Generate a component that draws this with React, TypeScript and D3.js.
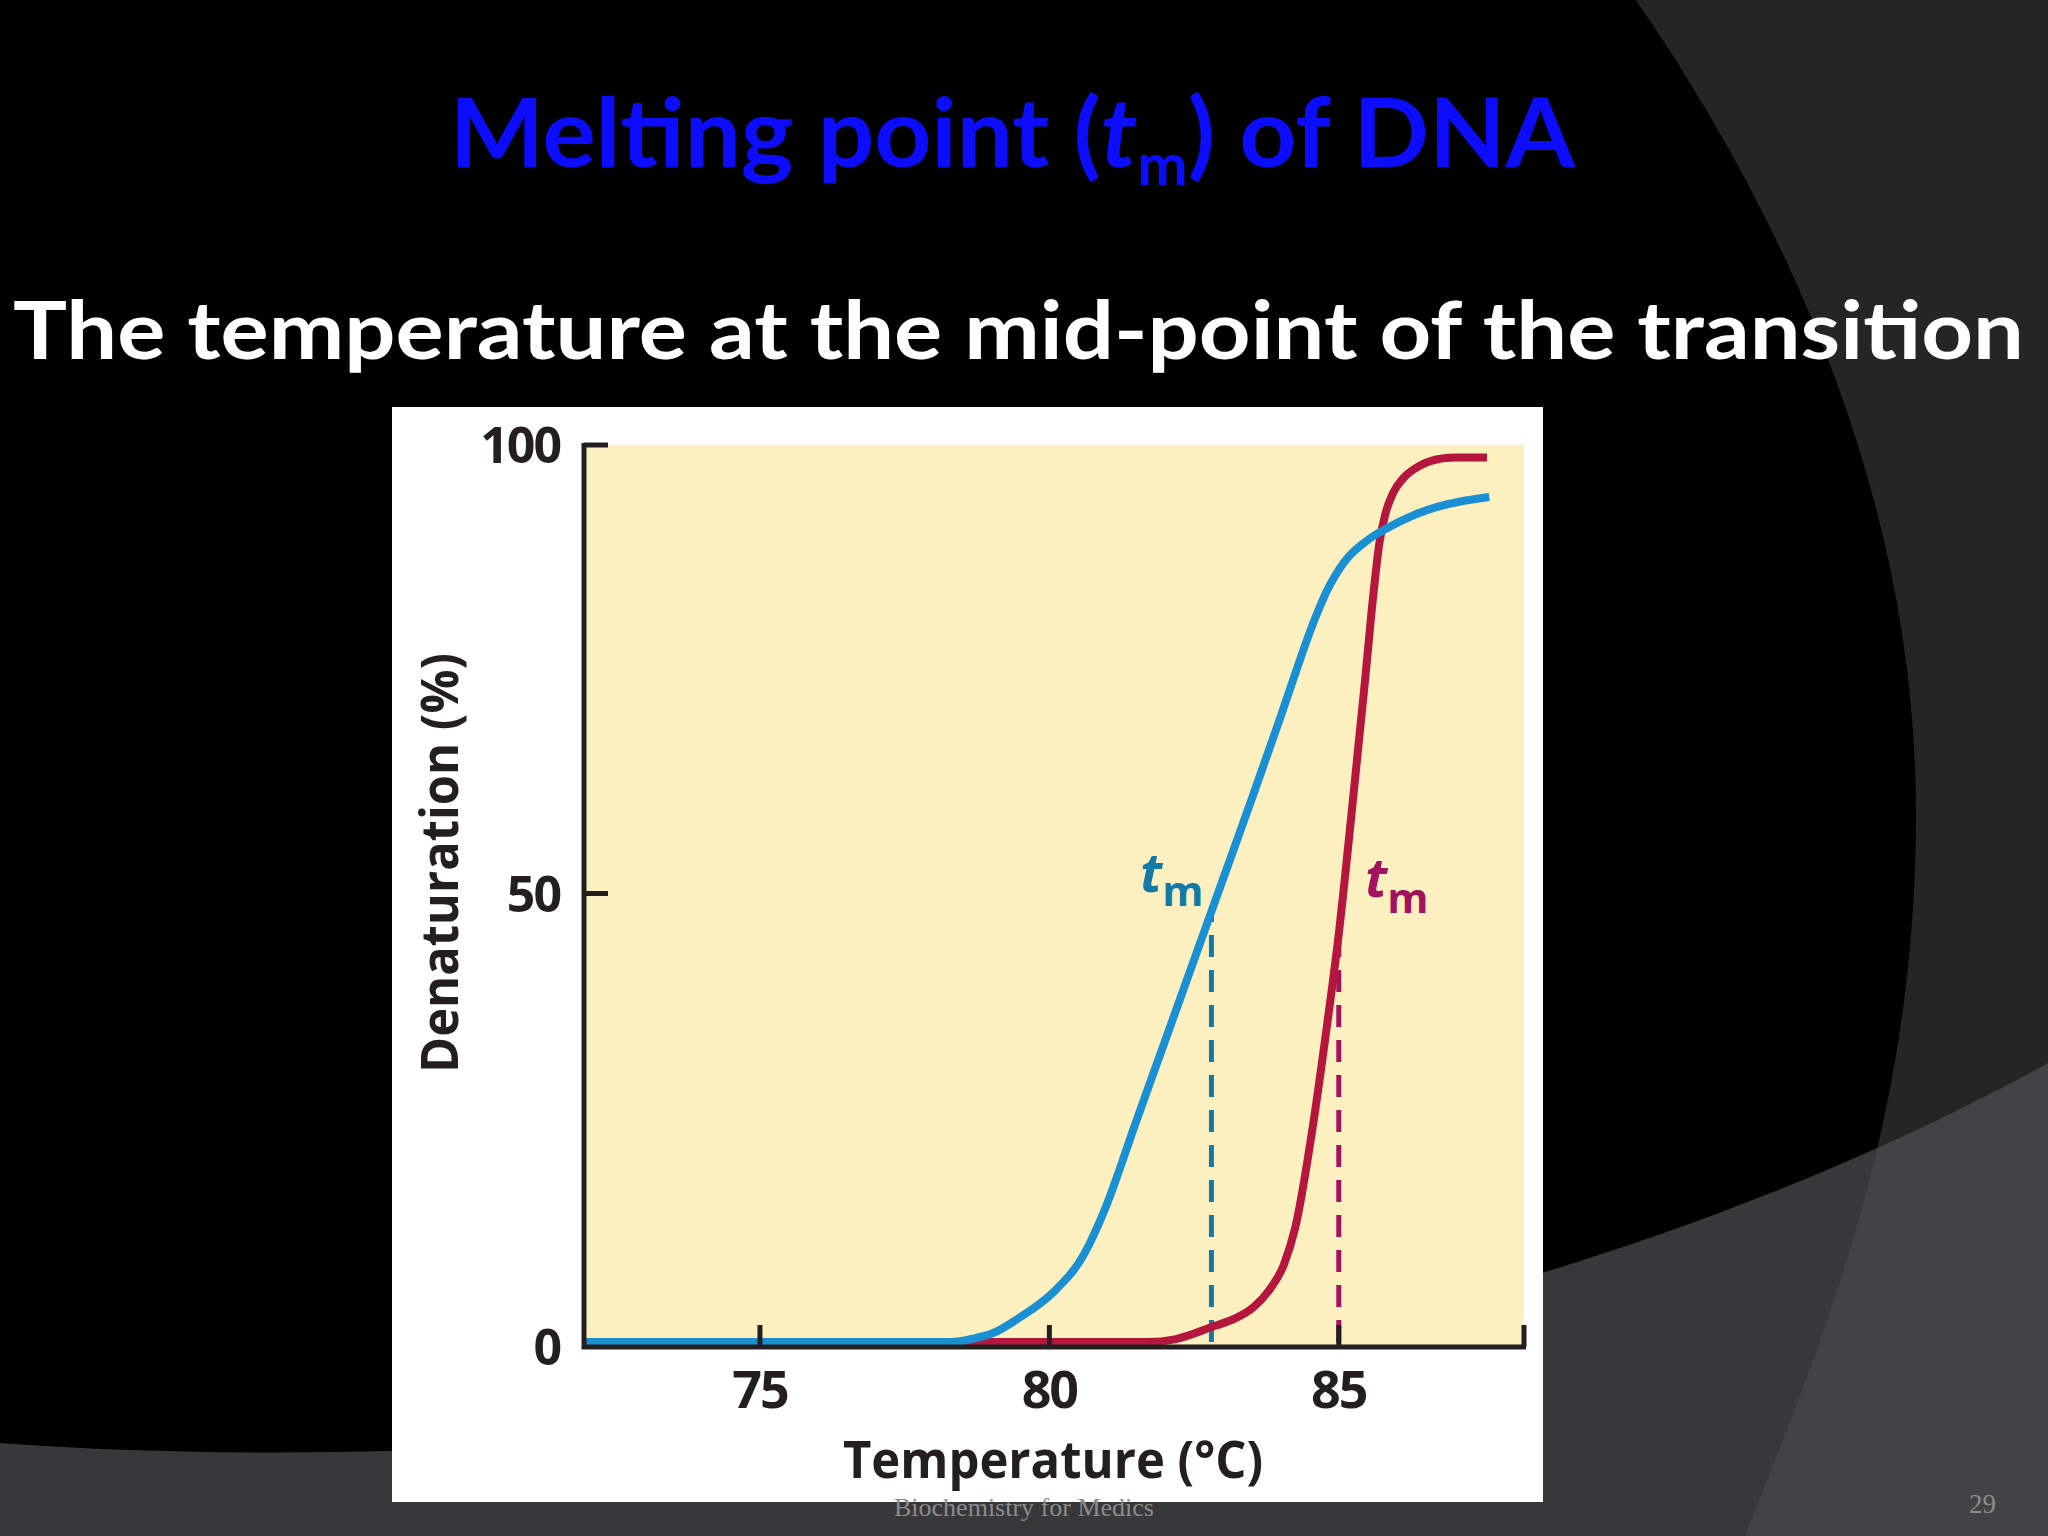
import * as d3 from "d3";

// melting curves: [temperature °C, denaturation %]
const blueCurve: [number, number][] = [
  [72, 0], [78.3, 0], [78.7, 0.4], [79.03, 1.0], [79.48, 2.7], [80.06, 5.5],
  [80.6, 9.8], [80.94, 14.5], [81.5, 24.6], [82.0, 33.6], [82.5, 42.6],
  [83.0, 51.6], [83.5, 60.6], [84.0, 69.8], [84.3, 75.5], [84.55, 80.0],
  [84.8, 83.8], [85.1, 87.0], [85.5, 89.4], [85.8, 90.6], [86.3, 92.2],
  [86.7, 93.1], [87.1, 93.7], [87.6, 94.2],
];
const redCurve: [number, number][] = [
  [72, 0], [81.7, 0], [82.17, 0.3], [82.86, 1.8], [83.2, 2.6], [83.53, 3.9],
  [83.8, 5.8], [84.05, 8.6], [84.25, 12.8], [84.56, 24.4], [84.78, 34.5],
  [85.0, 45.5], [85.23, 59.5], [85.45, 73.5], [85.6, 83.5], [85.7, 89.0],
  [85.8, 92.2], [85.95, 94.8], [86.13, 96.4], [86.35, 97.5], [86.58, 98.2],
  [87.0, 98.6], [87.56, 98.6],
];
// tm markers: [temperature, top of dashed line %]
const blueTm: [number, number] = [82.8, 47.8];
const redTm: [number, number] = [85.0, 45.4];

const xTicks = [75, 80, 85];
const yTicks = [0, 50, 100];
const xDomain: [number, number] = [71.96, 88.2];

const BLUE = "#1b8fd3";
const BLUE_DARK = "#137aa8";
const RED = "#b5163d";
const RED_DARK = "#a2125f";
const AXIS = "#231f20";
const FONT = "'Open Sans', 'Noto Sans', sans-serif";

export default function App() {
  const x = d3.scaleLinear().domain(xDomain).range([584, 1524]);
  const y = d3.scaleLinear().domain([0, 100]).range([1342, 445]);

  const line = d3
    .line<[number, number]>()
    .x((d) => x(d[0]))
    .y((d) => y(d[1]))
    .curve(d3.curveMonotoneX);

  const axisY = y(0) + 5;

  return (
    <svg
      width={2048}
      height={1536}
      viewBox="0 0 2048 1536"
      style={{ position: "absolute", left: 0, top: 0, display: "block" }}
    >
      {/* slide background */}
      <rect width={2048} height={1536} fill="#000" />
      <path
        d="M1636,0 C1798,236 1916,513 1916,813 C1916,1113 1829,1326 1745,1536 L2048,1536 L2048,0 Z"
        fill="#252525"
      />
      <path
        d="M0,1443 C500,1480 1400,1420 2048,1063 L2048,1536 L0,1536 Z"
        fill="rgb(80,80,82)"
        fillOpacity={0.7}
      />

      {/* title */}
      <text
        x={450}
        y={167}
        fill="#0c0cff"
        fontFamily="'Comic Sans MS', Lato, 'Noto Sans', sans-serif"
        fontWeight={700}
        fontSize={96}
        textLength={1125}
        lengthAdjust="spacingAndGlyphs"
      >
        Melting point (<tspan fontStyle="italic">t</tspan>
        <tspan fontSize={58} dy={18}>m</tspan>
        <tspan dy={-18}>) of DNA</tspan>
      </text>

      <text
        x={13}
        y={359}
        fill="#fff"
        fontFamily="'Comic Sans MS', Lato, 'Noto Sans', sans-serif"
        fontWeight={700}
        fontSize={80}
        textLength={2011}
        lengthAdjust="spacingAndGlyphs"
      >
        The temperature at the mid-point of the transition
      </text>

      {/* figure panel */}
      <rect x={392} y={407} width={1151} height={1095} fill="#fff" />
      <rect
        x={x(xDomain[0])}
        y={y(100)}
        width={x(xDomain[1]) - x(xDomain[0])}
        height={axisY - y(100)}
        fill="#fdf0c0"
      />

      {/* tm dashed guides */}
      <line
        x1={x(blueTm[0])}
        x2={x(blueTm[0])}
        y1={y(0)}
        y2={y(blueTm[1])}
        stroke={BLUE_DARK}
        strokeWidth={5}
        strokeDasharray="22 13"
      />
      <line
        x1={x(redTm[0])}
        x2={x(redTm[0])}
        y1={y(0)}
        y2={y(redTm[1])}
        stroke={RED_DARK}
        strokeWidth={5}
        strokeDasharray="22 13"
      />

      {/* curves */}
      <path d={line(redCurve) ?? ""} fill="none" stroke={RED} strokeWidth={8} />
      <path d={line(blueCurve) ?? ""} fill="none" stroke={BLUE} strokeWidth={8} />

      {/* tm labels */}
      <text x={1140} y={892} fill={BLUE_DARK} fontFamily={FONT} fontWeight={700}>
        <tspan fontSize={54} fontStyle="italic">t</tspan>
        <tspan fontSize={42} dy={14}>m</tspan>
      </text>
      <text x={1365} y={897} fill={RED_DARK} fontFamily={FONT} fontWeight={700}>
        <tspan fontSize={54} fontStyle="italic">t</tspan>
        <tspan fontSize={42} dy={16}>m</tspan>
      </text>

      {/* axes */}
      <line x1={584} x2={584} y1={y(100) - 2} y2={axisY + 2} stroke={AXIS} strokeWidth={5} />
      <line x1={582} x2={x(xDomain[1]) + 2} y1={axisY} y2={axisY} stroke={AXIS} strokeWidth={5} />
      {yTicks.map((t) => (
        <g key={`y${t}`}>
          {t > 0 && (
            <line x1={584} x2={608} y1={y(t)} y2={y(t)} stroke={AXIS} strokeWidth={5} />
          )}
          <text
            x={560}
            y={t === 0 ? axisY : y(t)}
            dy="0.36em"
            textAnchor="end"
            fill={AXIS}
            fontFamily={FONT}
            fontWeight={700}
            fontSize={50}
            letterSpacing={-2}
          >
            {t}
          </text>
        </g>
      ))}
      {[...xTicks, xDomain[1]].map((t) => (
        <line
          key={`xt${t}`}
          x1={x(t)}
          x2={x(t)}
          y1={axisY}
          y2={axisY - 22}
          stroke={AXIS}
          strokeWidth={5}
        />
      ))}
      {xTicks.map((t) => (
        <text
          key={`xl${t}`}
          x={x(t)}
          y={1408}
          textAnchor="middle"
          fill={AXIS}
          fontFamily={FONT}
          fontWeight={700}
          fontSize={52}
          letterSpacing={-2}
        >
          {t}
        </text>
      ))}

      <text
        x={1053}
        y={1478}
        textAnchor="middle"
        fill={AXIS}
        fontFamily={FONT}
        fontWeight={700}
        fontSize={52}
        textLength={420}
        lengthAdjust="spacingAndGlyphs"
      >
        Temperature (°C)
      </text>
      <text
        transform="translate(458,863) rotate(-90)"
        textAnchor="middle"
        fill={AXIS}
        fontFamily={FONT}
        fontWeight={700}
        fontSize={52}
        textLength={420}
        lengthAdjust="spacingAndGlyphs"
      >
        Denaturation (%)
      </text>

      {/* footer */}
      <text
        x={1024}
        y={1516}
        textAnchor="middle"
        fill="#8c8c8c"
        fontFamily="'Liberation Serif', serif"
        fontSize={26}
      >
        Biochemistry for Medics
      </text>
      <text x={1996} y={1513} textAnchor="end" fill="#8c8c8c" fontFamily="'Liberation Serif', serif" fontSize={27}>
        29
      </text>
    </svg>
  );
}
